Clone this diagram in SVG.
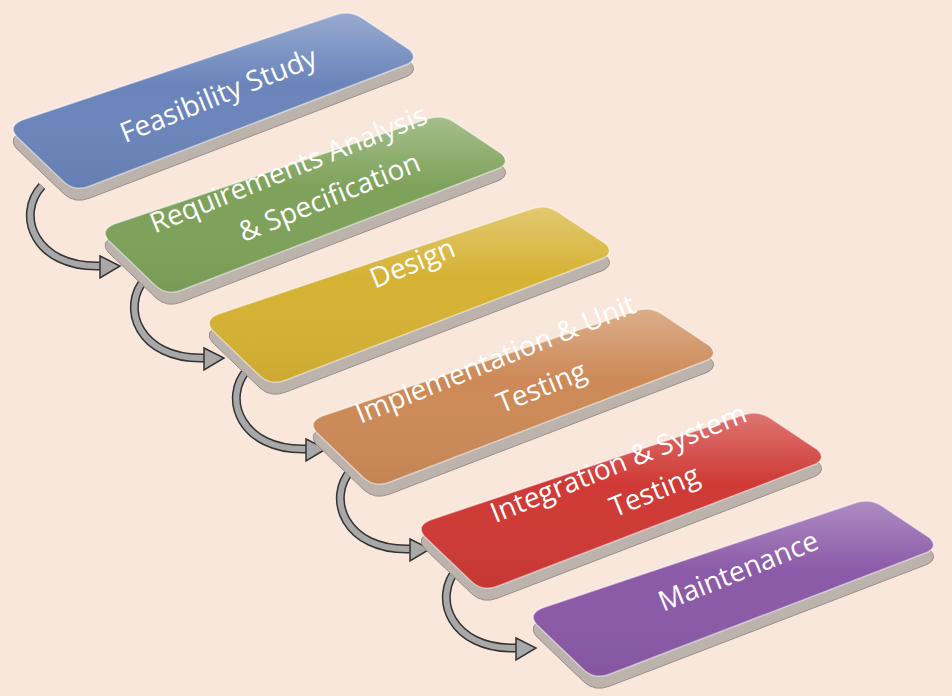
<svg xmlns="http://www.w3.org/2000/svg" width="952" height="696" viewBox="0 0 952 696">
<defs>
<path id="shape" d="M22,120 L335,15 Q350,10 362,18 L410,50 Q418,58 408,64 L90,186 Q75,192 64,182 L16,136 Q8,126 22,120 Z"/>
<linearGradient id="gl" x1="0" y1="0" x2="0" y2="1"><stop offset="0" stop-color="#fff" stop-opacity="0.3"/><stop offset="0.4" stop-color="#fff" stop-opacity="0"/><stop offset="1" stop-color="#000" stop-opacity="0.05"/></linearGradient>
</defs>
<style>
.slab{fill:#bdb3ad;stroke:#9a8f8a;stroke-width:1}
.top{stroke:#fff;stroke-opacity:0.5;stroke-width:1.5}
.t{font-family:"Open Sans",sans-serif;font-size:28px;fill:#fff;text-anchor:middle}
.ao{fill:none;stroke:#333;stroke-width:9;stroke-linecap:butt}
.ai{fill:none;stroke:#a8a8a8;stroke-width:6}
.ah{fill:#a8a8a8;stroke:#333;stroke-width:1.5}
</style>
<rect width="952" height="696" fill="#fae7dc"/>
<g id="connectors">
<g id="a1"><path class="ao" d="M42,186 C15,215 35,268 100,266"/><path class="ai" d="M42,186 C15,215 35,268 100,266"/><polygon class="ah" points="100,256 120,266 100,278"/></g>
<g transform="translate(104,92)"><path class="ao" d="M42,186 C15,215 35,268 100,266"/><path class="ai" d="M42,186 C15,215 35,268 100,266"/><polygon class="ah" points="100,256 120,266 100,278"/></g>
<g transform="translate(206,183)"><path class="ao" d="M42,186 C15,215 35,268 100,266"/><path class="ai" d="M42,186 C15,215 35,268 100,266"/><polygon class="ah" points="100,256 120,266 100,278"/></g>
<g transform="translate(310,283)"><path class="ao" d="M42,186 C15,215 35,268 100,266"/><path class="ai" d="M42,186 C15,215 35,268 100,266"/><polygon class="ah" points="100,256 120,266 100,278"/></g>
<g transform="translate(416,382)"><path class="ao" d="M42,186 C15,215 35,268 100,266"/><path class="ai" d="M42,186 C15,215 35,268 100,266"/><polygon class="ah" points="100,256 120,266 100,278"/></g>
</g>
<g id="n1"><use href="#shape" class="slab" transform="translate(0,12)"/><use href="#shape" class="top" fill="#6b85bb"/><use href="#shape" fill="url(#gl)"/>
<text class="t" transform="translate(222,104) rotate(-22)">Feasibility Study</text></g>
<g id="n2"><g transform="translate(92,104)"><use href="#shape" class="slab" transform="translate(0,12)"/><use href="#shape" class="top" fill="#7ea25a"/><use href="#shape" fill="url(#gl)"/></g>
<text class="t" transform="translate(292,178) rotate(-22)">Requirements Analysis</text><text class="t" transform="translate(333,206) rotate(-22)">&amp; Specification</text></g>
<g id="n3"><g transform="translate(196,194)"><use href="#shape" class="slab" transform="translate(0,12)"/><use href="#shape" class="top" fill="#d6b234"/><use href="#shape" fill="url(#gl)"/></g>
<text class="t" transform="translate(416,272) rotate(-22)">Design</text></g>
<g id="n4"><g transform="translate(300,296)"><use href="#shape" class="slab" transform="translate(0,12)"/><use href="#shape" class="top" fill="#cd8a58"/><use href="#shape" fill="url(#gl)"/></g>
<text class="t" transform="translate(499,368) rotate(-22)">Implementation &amp; Unit</text><text class="t" transform="translate(545,396) rotate(-22)">Testing</text></g>
<g id="n5"><g transform="translate(408,400)"><use href="#shape" class="slab" transform="translate(0,12)"/><use href="#shape" class="top" fill="#cf3a36"/><use href="#shape" fill="url(#gl)"/></g>
<text class="t" transform="translate(622,472) rotate(-22)">Integration &amp; System</text><text class="t" transform="translate(658,500) rotate(-22)">Testing</text></g>
<g id="n6"><g transform="translate(520,488)"><use href="#shape" class="slab" transform="translate(0,12)"/><use href="#shape" class="top" fill="#8b5aa8"/><use href="#shape" fill="url(#gl)"/></g>
<text class="t" transform="translate(742,580) rotate(-22)">Maintenance</text></g>
</svg>
